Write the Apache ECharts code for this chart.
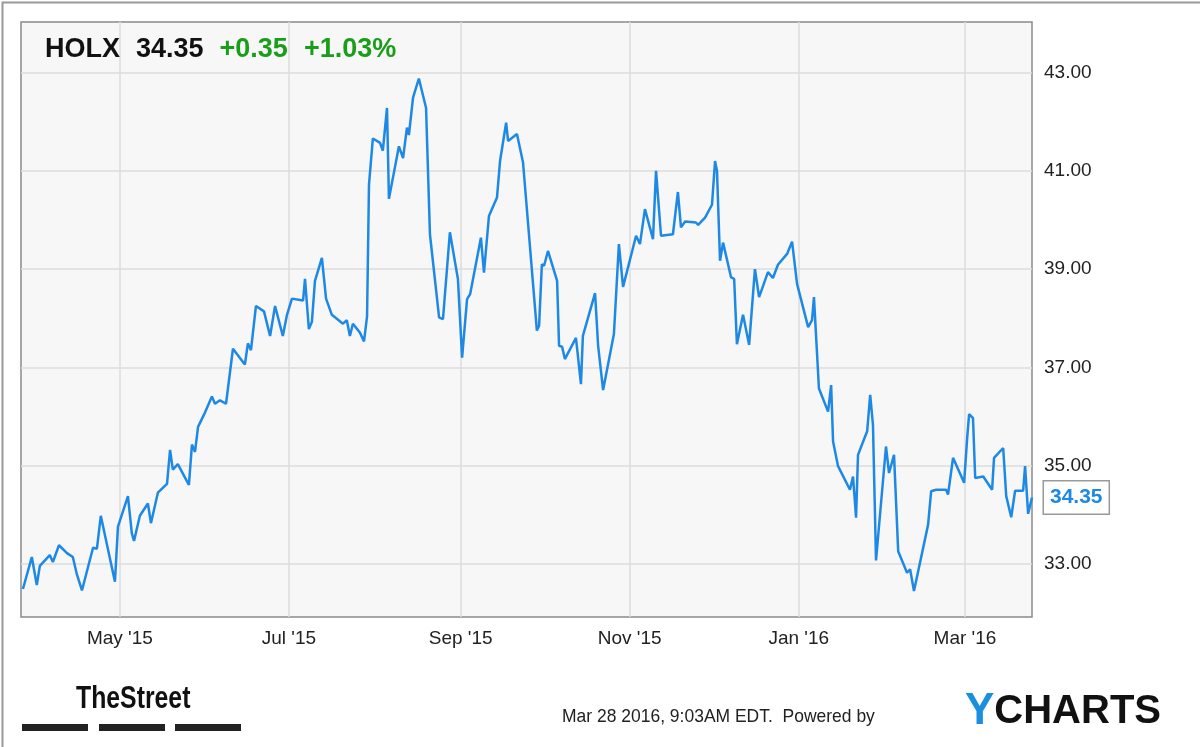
<!DOCTYPE html>
<html><head><meta charset="utf-8">
<script src="https://cdn.jsdelivr.net/npm/echarts@6/dist/echarts.min.js"></script>
<style>html,body{margin:0;padding:0;background:#fff}#c{width:1200px;height:747px}</style>
</head><body><div id="c"></div>
<script>
// day offsets from 2015-05-01
const days = [-35.0,-31.8,-30.0,-28.9,-25.3,-24.2,-22.0,-19.1,-17.0,-15.5,-13.7,-9.7,-8.3,-6.9,-3.6,-1.8,-0.7,2.9,4.3,5.1,7.2,10.1,11.2,13.7,17.0,18.1,19.1,20.9,24.9,26.0,27.1,28.2,30.7,33.2,34.3,36.1,38.3,40.8,45.1,46.2,47.3,49.1,52.0,54.2,56.0,58.8,60.3,62.1,66.1,66.8,68.2,69.3,70.4,72.9,74.4,76.5,80.5,81.9,83.0,84.1,86.6,88.1,89.2,89.9,91.3,93.9,94.9,96.4,97.1,100.7,102.2,103.6,104.3,105.8,107.9,110.5,111.9,115.2,116.6,119.1,122.0,123.5,125.3,126.4,130.3,131.4,133.2,136.1,137.2,139.4,140.1,143.3,145.5,150.5,151.3,152.3,153.1,154.5,157.8,158.5,159.6,160.6,164.6,166.4,167.1,171.5,172.6,174.4,178.3,180.1,181.6,186.3,187.7,189.5,192.4,193.5,195.3,199.6,201.4,202.5,204.0,207.9,208.7,211.2,213.7,214.8,215.5,216.6,217.7,220.6,221.7,222.7,224.9,227.1,229.2,230.7,233.9,235.7,237.5,240.8,242.6,244.4,248.4,249.8,250.5,252.3,255.6,256.7,257.4,259.2,263.5,264.6,265.7,266.4,269.7,270.8,271.8,272.9,276.5,277.6,279.4,280.9,284.1,285.2,286.6,291.7,292.8,294.6,298.2,298.9,300.7,304.7,305.8,306.5,307.9,308.7,311.6,314.8,315.5,318.8,319.9,321.7,323.1,326.0,326.7,327.8,329.2];
const prices = [32.49,33.14,32.57,32.96,33.18,33.04,33.38,33.22,33.14,32.78,32.46,33.33,33.31,33.98,33.11,32.64,33.76,34.38,33.62,33.47,33.98,34.23,33.83,34.45,34.63,35.32,34.92,35.03,34.61,35.43,35.28,35.79,36.08,36.41,36.26,36.33,36.26,37.38,37.06,37.49,37.35,38.25,38.14,37.64,38.25,37.64,38.07,38.40,38.36,38.80,37.78,37.93,38.76,39.23,38.40,38.07,37.89,37.96,37.64,37.89,37.71,37.53,38.04,40.72,41.66,41.57,41.41,42.28,40.43,41.50,41.26,41.88,41.73,42.49,42.88,42.28,39.71,38.02,37.98,39.75,38.80,37.20,38.39,38.49,39.64,38.93,40.08,40.46,41.20,41.98,41.61,41.75,41.17,37.75,37.85,39.10,39.07,39.37,38.76,37.44,37.42,37.17,37.60,36.66,37.64,38.51,37.44,36.54,37.68,39.51,38.64,39.68,39.51,40.22,39.61,41.00,39.68,39.71,40.57,39.85,39.97,39.95,39.90,40.05,40.31,41.20,41.00,39.17,39.54,38.83,38.80,37.47,38.07,37.46,39.0,38.43,38.94,38.82,39.09,39.31,39.56,38.70,37.82,37.96,38.43,36.57,36.10,36.64,35.49,34.99,34.51,34.78,33.94,35.22,35.70,36.44,35.83,33.07,35.39,34.85,35.22,33.26,32.82,32.89,32.45,33.80,34.48,34.51,34.51,34.41,35.16,34.65,35.56,36.05,35.97,34.75,34.78,34.51,35.16,35.36,34.38,33.95,34.49,34.49,34.99,34.02,34.35];
const monthTicks = [0,61,123,184,245,305];
const monthLabels = ["May '15","Jul '15","Sep '15","Nov '15","Jan '16","Mar '16"];
const priceTicks = [33,35,37,39,41,43];
const lastPrice = 34.35;

const data = days.map((d,i)=>[d,prices[i]]);
const gl = {color:'#dddddd',width:1.5,type:'solid'};
const F = '"Liberation Sans", Arial';
const chart = echarts.init(document.getElementById('c'));
chart.setOption({
  animation:false,
  backgroundColor:'#fff',
  grid:{left:21,top:22,right:168,bottom:130,show:true,backgroundColor:'#f7f7f7',borderColor:'#8a8a8a',borderWidth:1.5},
  xAxis:{type:'value',min:-35.7,max:329.2,splitLine:{show:false},axisTick:{show:false},
    axisLine:{show:false},
    axisLabel:{customValues:monthTicks,formatter:v=>monthLabels[monthTicks.indexOf(v)]||'',color:'#222',fontSize:19,fontFamily:F,margin:12}},
  yAxis:{type:'value',position:'right',min:31.92,max:44.03,splitLine:{show:false},axisTick:{show:false},axisLine:{show:false},
    axisLabel:{customValues:priceTicks,formatter:v=>v.toFixed(2),color:'#222',fontSize:19,fontFamily:F,margin:12}},
  title:{left:40,top:31,text:'{a|HOLX}{s|}{a|34.35}{s|}{b|+0.35}{s|}{b|+1.03%}',
    textStyle:{rich:{a:{fontSize:27,fontWeight:'bold',color:'#111',fontFamily:F},b:{fontSize:27,fontWeight:'bold',color:'#1a9e1a',fontFamily:F},s:{width:16}}}},
  series:[{type:'line',data:data,showSymbol:false,lineStyle:{color:'#1e88e5',width:2.5},z:5,
    markLine:{silent:true,symbol:'none',label:{show:false},lineStyle:gl,z:1,
      data:priceTicks.map(v=>({yAxis:v})).concat(monthTicks.map(v=>({xAxis:v})))},
    markPoint:{symbol:'circle',symbolSize:2,itemStyle:{color:'rgba(0,0,0,0)'},data:[{coord:[329.2,lastPrice]}],
      label:{show:true,position:'right',distance:11,formatter:String(lastPrice),color:'#1e88e5',fontWeight:'bold',fontSize:21,fontFamily:F,
        backgroundColor:'#fff',borderColor:'#999',borderWidth:1.5,padding:[6,6,5,6]}}
  }],
  graphic:[
    {type:'rect',left:0,top:0,shape:{width:1199,height:746},style:{fill:'none',stroke:'#999',lineWidth:2},silent:true},
    {type:'text',x:76,y:684,scaleX:0.8,style:{text:'TheStreet',font:'bold 31px "Liberation Sans", Arial',fill:'#111'}},
    {type:'rect',left:22,top:724,shape:{width:66,height:7},style:{fill:'#222'}},
    {type:'rect',left:99,top:724,shape:{width:66,height:7},style:{fill:'#222'}},
    {type:'rect',left:175,top:724,shape:{width:66,height:7},style:{fill:'#222'}},
    {type:'text',x:562,y:707,scaleX:0.92,style:{text:'Mar 28 2016, 9:03AM EDT.  Powered by',font:'19px "Liberation Sans", Arial',fill:'#222'}},
    {type:'text',left:965,top:690,style:{text:'{y|Y}{c|CHARTS}',rich:{y:{fontSize:44,fontWeight:'bold',fontFamily:F,fill:'#1a8fe0'},c:{fontSize:40,fontWeight:'bold',fontFamily:F,fill:'#111'}}}}
  ]
});
</script></body></html>
